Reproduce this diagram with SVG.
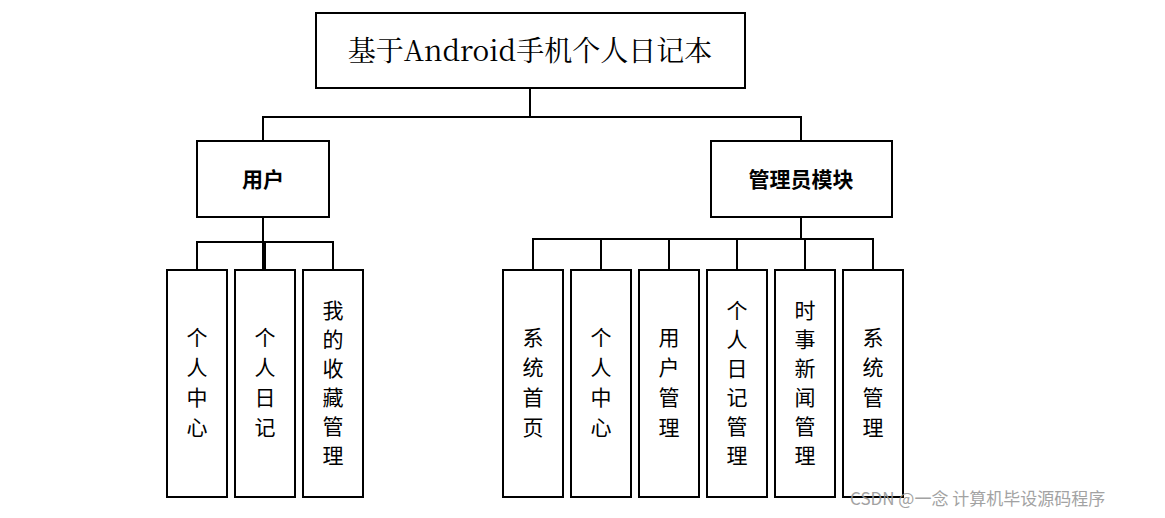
<svg xmlns="http://www.w3.org/2000/svg" width="1165" height="518" viewBox="0 0 1165 518">
<style>
.b{fill:#fff;stroke:#000;stroke-width:2}
.c{fill:none;stroke:#000;stroke-width:2}
.t{font-family:"Noto Sans CJK SC",sans-serif;font-size:21px;text-anchor:middle;fill:#000}
.h{font-family:"Noto Sans CJK SC",sans-serif;font-size:21px;font-weight:bold;text-anchor:middle}
</style>
<rect width="1165" height="518" fill="#fff"/>
<g id="connectors">
<path class="c" d="M530 88V117M263 141V117H801V141"/>
<path class="c" d="M263 217V270M197 270V242H333V270M265 242V270"/>
<path class="c" d="M801 217V239M533 270V239H873V270M601 239V270M669 239V270M737 239V270M805 239V270"/>
</g>
<g id="root"><rect class="b" x="316" y="13" width="429" height="75"/><text x="530" y="61" font-family="'Noto Serif CJK SC','Noto Sans CJK SC',serif" font-size="28" text-anchor="middle">基于Android手机个人日记本</text></g>
<g id="user"><rect class="b" x="197" y="141" width="132" height="76"/><text class="h" x="263" y="187">用户</text></g>
<g id="admin"><rect class="b" x="711" y="141" width="181" height="76"/><text class="h" x="801" y="187">管理员模块</text></g>
<g id="u1"><rect class="b" x="167" y="270" width="60" height="227"/><text class="t"><tspan x="197" y="345">个</tspan><tspan x="197" dy="30">人</tspan><tspan x="197" dy="30">中</tspan><tspan x="197" dy="30">心</tspan></text></g>
<g id="u2"><rect class="b" x="235" y="270" width="60" height="227"/><text class="t"><tspan x="265" y="345">个</tspan><tspan x="265" dy="30">人</tspan><tspan x="265" dy="30">日</tspan><tspan x="265" dy="30">记</tspan></text></g>
<g id="u3"><rect class="b" x="303" y="270" width="60" height="227"/><text class="t"><tspan x="333" y="318">我</tspan><tspan x="333" dy="29">的</tspan><tspan x="333" dy="29">收</tspan><tspan x="333" dy="29">藏</tspan><tspan x="333" dy="29">管</tspan><tspan x="333" dy="29">理</tspan></text></g>
<g id="a1"><rect class="b" x="503" y="270" width="60" height="227"/><text class="t"><tspan x="533" y="345">系</tspan><tspan x="533" dy="30">统</tspan><tspan x="533" dy="30">首</tspan><tspan x="533" dy="30">页</tspan></text></g>
<g id="a2"><rect class="b" x="571" y="270" width="60" height="227"/><text class="t"><tspan x="601" y="345">个</tspan><tspan x="601" dy="30">人</tspan><tspan x="601" dy="30">中</tspan><tspan x="601" dy="30">心</tspan></text></g>
<g id="a3"><rect class="b" x="639" y="270" width="60" height="227"/><text class="t"><tspan x="669" y="345">用</tspan><tspan x="669" dy="30">户</tspan><tspan x="669" dy="30">管</tspan><tspan x="669" dy="30">理</tspan></text></g>
<g id="a4"><rect class="b" x="707" y="270" width="60" height="227"/><text class="t"><tspan x="737" y="318">个</tspan><tspan x="737" dy="29">人</tspan><tspan x="737" dy="29">日</tspan><tspan x="737" dy="29">记</tspan><tspan x="737" dy="29">管</tspan><tspan x="737" dy="29">理</tspan></text></g>
<g id="a5"><rect class="b" x="775" y="270" width="60" height="227"/><text class="t"><tspan x="805" y="318">时</tspan><tspan x="805" dy="29">事</tspan><tspan x="805" dy="29">新</tspan><tspan x="805" dy="29">闻</tspan><tspan x="805" dy="29">管</tspan><tspan x="805" dy="29">理</tspan></text></g>
<g id="a6"><rect class="b" x="843" y="270" width="60" height="227"/><text class="t"><tspan x="873" y="345">系</tspan><tspan x="873" dy="30">统</tspan><tspan x="873" dy="30">管</tspan><tspan x="873" dy="30">理</tspan></text></g>
<text x="850" y="505" font-family="'Noto Sans CJK SC',sans-serif" font-size="17" fill="#999" opacity="0.9">CSDN @一念 计算机毕设源码程序</text>
</svg>
